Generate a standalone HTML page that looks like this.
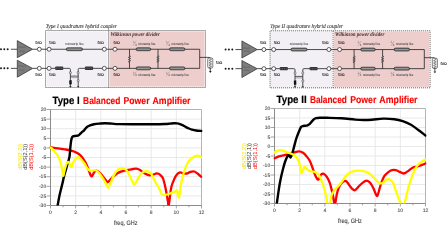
<!DOCTYPE html>
<html><head><meta charset="utf-8">
<style>
html,body{margin:0;padding:0;background:#fff;}
body{width:448px;height:252px;overflow:hidden;}
svg{display:block;text-rendering:geometricPrecision;}
.g{stroke:#e3e3e3;stroke-width:0.8;}
.fr{fill:none;stroke:#b4b4b4;stroke-width:1;}
.ax{fill:none;stroke:#8c8c8c;stroke-width:1;}
.tk{stroke:#8c8c8c;stroke-width:0.8;}
.tl{font-family:"Liberation Sans",sans-serif;font-size:5px;fill:#444;stroke:#444;stroke-width:0.08;}
.xl{font-family:"Liberation Sans",sans-serif;font-size:6.4px;fill:#333;stroke:#333;stroke-width:0.08;}
.yl{font-family:"Liberation Sans",sans-serif;font-size:5.8px;text-rendering:optimizeLegibility;}
.t1{font-family:"Liberation Sans",sans-serif;font-weight:bold;font-size:10.5px;fill:#000;stroke:#000;stroke-width:0.2;}
.t2{font-family:"Liberation Sans",sans-serif;font-weight:bold;font-size:10.0px;fill:#f00;text-rendering:geometricPrecision;stroke:#f00;stroke-width:0.12;}
.bl{font-family:"Liberation Serif",serif;font-style:italic;font-size:5.8px;fill:#333;stroke:#333;stroke-width:0.1;}
.wl{font-family:"Liberation Serif",serif;font-style:italic;font-weight:bold;font-size:5.6px;fill:#3a3030;}
.w{stroke:#222;stroke-width:0.8;fill:none;}
.amp{fill:#7d7d7d;stroke:#2a2a2a;stroke-width:0.7;}
.amt{font-family:"Liberation Sans",sans-serif;font-size:2.6px;fill:#555;}
.ms{fill:#7c7f7f;stroke:#222;stroke-width:0.7;}
.om{font-family:"Liberation Serif",serif;font-size:3.7px;fill:#222;stroke:#222;stroke-width:0.12;}
.ml{font-family:"Liberation Serif",serif;font-size:3.6px;fill:#3a3a3a;stroke:#3a3a3a;stroke-width:0.06;}
.fr1{font-family:"Liberation Serif",serif;font-size:3.3px;fill:#444;}
.lam{font-size:3.6px;}
</style></head><body>
<svg width="448" height="252" viewBox="0 0 448 252">
<rect width="448" height="252" fill="#fff"/>
<g><rect x="45.5" y="30.5" width="63.0" height="57.0" fill="#f2f0f5" stroke="#fff" stroke-width="1.7"/>
<rect x="108.5" y="30.5" width="97.0" height="57.0" fill="#edcecd" stroke="#fff" stroke-width="1.7"/>
<path d="M45.5 87.5 V30.5 H205.5 V87.5 H45.5 M108.5 30.5 V87.5" fill="none" stroke="#555" stroke-width="0.9" stroke-dasharray="1.1 0.9"/>
<text x="45.7" y="28.0" class="bl" textLength="71.2" lengthAdjust="spacingAndGlyphs">Type I quadrature hybrid coupler</text>
<text x="110.4" y="36.2" class="wl" textLength="49.3" lengthAdjust="spacingAndGlyphs">Wilkinson power divider</text>
<circle cx="1.0" cy="49.25" r="1.0" fill="#1a1a1a"/>
<circle cx="4.3" cy="49.25" r="1.0" fill="#1a1a1a"/>
<circle cx="7.7" cy="49.25" r="1.0" fill="#1a1a1a"/>
<line x1="10.8" y1="49.25" x2="17.2" y2="49.25" class="w"/>
<circle cx="1.0" cy="68.35" r="1.0" fill="#1a1a1a"/>
<circle cx="4.3" cy="68.35" r="1.0" fill="#1a1a1a"/>
<circle cx="7.7" cy="68.35" r="1.0" fill="#1a1a1a"/>
<line x1="10.8" y1="68.35" x2="17.2" y2="68.35" class="w"/>
<path d="M17.3 40.6 L17.3 57.7 L32.6 49.25 Z" class="amp"/>
<path d="M17.3 60.2 L17.3 77.2 L32.6 68.4 Z" class="amp"/>
<text x="22.2" y="48.25" class="amt" text-anchor="middle">Power</text>
<text x="22.2" y="51.85" class="amt" text-anchor="middle">Amp</text>
<text x="22.2" y="67.35" class="amt" text-anchor="middle">Power</text>
<text x="22.2" y="70.95" class="amt" text-anchor="middle">Amp</text>
<line x1="32.6" y1="49.25" x2="199.7" y2="49.25" class="w"/>
<line x1="32.6" y1="68.35" x2="55.3" y2="68.35" class="w"/>
<line x1="92.9" y1="68.35" x2="199.7" y2="68.35" class="w"/>
<line x1="199.7" y1="49.25" x2="199.7" y2="68.35" class="w"/>
<path d="M199.7 57.4 L209.2 57.4 Q210.3 57.4 210.3 58.5" class="w"/>
<rect x="207.7" y="57.9" width="5.1" height="10.2" rx="1.4" fill="#f2f2f2" stroke="#333" stroke-width="0.6"/>
<path d="M210.3 58.4 l1.3 0.8 l-2.6 1.2 l2.6 1.2 l-2.6 1.2 l2.6 1.2 l-2.6 1.2 l2.6 1.2 l-2.6 1.2 l1.3 0.8" fill="none" stroke="#333" stroke-width="0.5"/>
<line x1="210.3" y1="68.1" x2="210.3" y2="71.3" class="w"/>
<path d="M209.0 71.1 L211.6 71.1 L210.3 72.9 Z" fill="#222"/>
<line x1="129.5" y1="49.25" x2="129.5" y2="68.35" class="w"/>
<path d="M129.5 55.6 l1.2 0.7 l-2.4 1.1 l2.4 1.1 l-2.4 1.1 l2.4 1.1 l-2.4 1.1 l1.2 0.7" fill="#edcecd" stroke="#222" stroke-width="0.6"/>
<line x1="158.0" y1="49.25" x2="158.0" y2="68.35" class="w"/>
<path d="M158.0 55.6 l1.2 0.7 l-2.4 1.1 l2.4 1.1 l-2.4 1.1 l2.4 1.1 l-2.4 1.1 l1.2 0.7" fill="#edcecd" stroke="#222" stroke-width="0.6"/>
<rect x="66.3" y="47.80" width="16.2" height="2.9" rx="1.4" class="ms"/>
<line x1="67.5" y1="49.25" x2="81.3" y2="49.25" stroke="#b5b5b5" stroke-width="0.5"/>
<rect x="136.1" y="47.80" width="14.6" height="2.9" rx="1.4" class="ms"/>
<line x1="137.3" y1="49.25" x2="149.5" y2="49.25" stroke="#b5b5b5" stroke-width="0.5"/>
<rect x="136.1" y="66.90" width="14.6" height="2.9" rx="1.4" class="ms"/>
<line x1="137.3" y1="68.35" x2="149.5" y2="68.35" stroke="#b5b5b5" stroke-width="0.5"/>
<rect x="169.5" y="47.80" width="15.4" height="2.9" rx="1.4" class="ms"/>
<line x1="170.7" y1="49.25" x2="183.7" y2="49.25" stroke="#b5b5b5" stroke-width="0.5"/>
<rect x="169.5" y="66.90" width="15.4" height="2.9" rx="1.4" class="ms"/>
<line x1="170.7" y1="68.35" x2="183.7" y2="68.35" stroke="#b5b5b5" stroke-width="0.5"/>
<rect x="55.1" y="66.60" width="8.2" height="3.3" rx="1.0" fill="#303030"/>
<line x1="56.50" y1="67.45" x2="56.10" y2="69.25" stroke="#8a8a8a" stroke-width="0.45"/>
<line x1="58.30" y1="67.45" x2="57.90" y2="69.25" stroke="#8a8a8a" stroke-width="0.45"/>
<line x1="60.10" y1="67.45" x2="59.70" y2="69.25" stroke="#8a8a8a" stroke-width="0.45"/>
<line x1="61.90" y1="67.45" x2="61.50" y2="69.25" stroke="#8a8a8a" stroke-width="0.45"/>
<rect x="84.9" y="66.60" width="8.2" height="3.3" rx="1.0" fill="#303030"/>
<line x1="86.30" y1="67.45" x2="85.90" y2="69.25" stroke="#8a8a8a" stroke-width="0.45"/>
<line x1="88.10" y1="67.45" x2="87.70" y2="69.25" stroke="#8a8a8a" stroke-width="0.45"/>
<line x1="89.90" y1="67.45" x2="89.50" y2="69.25" stroke="#8a8a8a" stroke-width="0.45"/>
<line x1="91.70" y1="67.45" x2="91.30" y2="69.25" stroke="#8a8a8a" stroke-width="0.45"/>
<path d="M63.2 68.35 L69.3 68.35 Q70.4 68.35 70.4 69.45 L70.4 86.2" fill="none" class="w"/>
<path d="M85.3 68.35 L79.3 68.35 Q78.2 68.35 78.2 69.45 L78.2 86.2" fill="none" class="w"/>
<line x1="70.4" y1="76.1" x2="78.2" y2="76.1" stroke="#333" stroke-width="0.8"/>
<line x1="70.4" y1="77.6" x2="78.2" y2="77.6" stroke="#555" stroke-width="0.5"/>
<rect x="69.5" y="71.7" width="1.9" height="2.0" rx="0.5" fill="#ddd" stroke="#333" stroke-width="0.45"/>
<path d="M69.2 85.9 L71.6 85.9 L70.4 87.7 Z" fill="#222"/>
<rect x="77.2" y="71.7" width="1.9" height="2.0" rx="0.5" fill="#ddd" stroke="#333" stroke-width="0.45"/>
<path d="M77.0 85.9 L79.4 85.9 L78.2 87.7 Z" fill="#222"/>
<path d="M69.2 80.4 L71.6 80.0 L71.8 84.2 L69.4 84.6 Z" fill="#111"/>
<rect x="77.25" y="79.6" width="1.9" height="2.0" rx="0.5" fill="#ddd" stroke="#333" stroke-width="0.45"/>
<circle cx="39.3" cy="49.25" r="2.0" fill="#fff" stroke="#2a2a2a" stroke-width="0.75"/>
<circle cx="39.3" cy="68.35" r="2.0" fill="#fff" stroke="#2a2a2a" stroke-width="0.75"/>
<circle cx="49.1" cy="49.25" r="2.0" fill="#fff" stroke="#2a2a2a" stroke-width="0.75"/>
<circle cx="49.1" cy="68.35" r="2.0" fill="#fff" stroke="#2a2a2a" stroke-width="0.75"/>
<circle cx="104.3" cy="49.25" r="2.0" fill="#fff" stroke="#2a2a2a" stroke-width="0.75"/>
<circle cx="104.3" cy="68.35" r="2.0" fill="#fff" stroke="#2a2a2a" stroke-width="0.75"/>
<circle cx="115.0" cy="49.25" r="2.0" fill="#fff" stroke="#2a2a2a" stroke-width="0.75"/>
<circle cx="115.0" cy="68.35" r="2.0" fill="#fff" stroke="#2a2a2a" stroke-width="0.75"/>
<text x="38.5" y="43.8" class="om" text-anchor="middle">50&#937;</text>
<text x="38.5" y="75.6" class="om" text-anchor="middle">50&#937;</text>
<text x="52.3" y="43.8" class="om" text-anchor="middle">50&#937;</text>
<text x="52.3" y="75.6" class="om" text-anchor="middle">50&#937;</text>
<text x="100.6" y="43.8" class="om" text-anchor="middle">50&#937;</text>
<text x="100.6" y="75.6" class="om" text-anchor="middle">50&#937;</text>
<text x="116.6" y="43.8" class="om" text-anchor="middle">50&#937;</text>
<text x="116.6" y="75.6" class="om" text-anchor="middle">50&#937;</text>
<text x="219" y="64.4" class="om" text-anchor="middle">50&#937;</text>
<text x="65.2" y="44.6" class="ml" textLength="18.4" lengthAdjust="spacingAndGlyphs">microstrip line</text>
<text x="138.3" y="45.0" class="ml" textLength="17.1" lengthAdjust="spacingAndGlyphs">microstrip line</text>
<text x="132.9" y="43.1" class="fr1">&#955;</text>
<line x1="133.3" y1="45.5" x2="136.2" y2="40.9" stroke="#666" stroke-width="0.35"/>
<text x="135.1" y="45.6" class="fr1">4</text>
<text x="138.3" y="75.6" class="ml" textLength="17.1" lengthAdjust="spacingAndGlyphs">microstrip line</text>
<text x="132.9" y="73.7" class="fr1">&#955;</text>
<line x1="133.3" y1="76.1" x2="136.2" y2="71.5" stroke="#666" stroke-width="0.35"/>
<text x="135.1" y="76.2" class="fr1">4</text>
<text x="171.5" y="45.0" class="ml" textLength="17.2" lengthAdjust="spacingAndGlyphs">microstrip line</text>
<text x="166.0" y="43.1" class="fr1">&#955;</text>
<line x1="166.4" y1="45.5" x2="169.3" y2="40.9" stroke="#666" stroke-width="0.35"/>
<text x="168.2" y="45.6" class="fr1">4</text>
<text x="171.5" y="75.6" class="ml" textLength="17.2" lengthAdjust="spacingAndGlyphs">microstrip line</text>
<text x="166.0" y="73.7" class="fr1">&#955;</text>
<line x1="166.4" y1="76.1" x2="169.3" y2="71.5" stroke="#666" stroke-width="0.35"/>
<text x="168.2" y="76.2" class="fr1">4</text></g>
<g transform="translate(224.6,0.3)"><rect x="45.5" y="30.5" width="63.0" height="57.0" fill="#f2f0f5" stroke="#fff" stroke-width="1.7"/>
<rect x="108.5" y="30.5" width="97.0" height="57.0" fill="#edcecd" stroke="#fff" stroke-width="1.7"/>
<path d="M45.5 87.5 V30.5 H205.5 V87.5 H45.5 M108.5 30.5 V87.5" fill="none" stroke="#555" stroke-width="0.9" stroke-dasharray="1.1 0.9"/>
<text x="45.7" y="28.0" class="bl" textLength="72.9" lengthAdjust="spacingAndGlyphs">Type II quadrature hybrid coupler</text>
<text x="110.4" y="36.2" class="wl" textLength="49.3" lengthAdjust="spacingAndGlyphs">Wilkinson power divider</text>
<circle cx="1.0" cy="49.25" r="1.0" fill="#1a1a1a"/>
<circle cx="4.3" cy="49.25" r="1.0" fill="#1a1a1a"/>
<circle cx="7.7" cy="49.25" r="1.0" fill="#1a1a1a"/>
<line x1="10.8" y1="49.25" x2="17.2" y2="49.25" class="w"/>
<circle cx="1.0" cy="68.35" r="1.0" fill="#1a1a1a"/>
<circle cx="4.3" cy="68.35" r="1.0" fill="#1a1a1a"/>
<circle cx="7.7" cy="68.35" r="1.0" fill="#1a1a1a"/>
<line x1="10.8" y1="68.35" x2="17.2" y2="68.35" class="w"/>
<path d="M17.3 40.6 L17.3 57.7 L32.6 49.25 Z" class="amp"/>
<path d="M17.3 60.2 L17.3 77.2 L32.6 68.4 Z" class="amp"/>
<text x="22.2" y="48.25" class="amt" text-anchor="middle">Power</text>
<text x="22.2" y="51.85" class="amt" text-anchor="middle">Amp</text>
<text x="22.2" y="67.35" class="amt" text-anchor="middle">Power</text>
<text x="22.2" y="70.95" class="amt" text-anchor="middle">Amp</text>
<line x1="32.6" y1="49.25" x2="199.7" y2="49.25" class="w"/>
<line x1="32.6" y1="68.35" x2="55.3" y2="68.35" class="w"/>
<line x1="92.9" y1="68.35" x2="199.7" y2="68.35" class="w"/>
<line x1="199.7" y1="49.25" x2="199.7" y2="68.35" class="w"/>
<path d="M199.7 57.4 L209.2 57.4 Q210.3 57.4 210.3 58.5" class="w"/>
<rect x="207.7" y="57.9" width="5.1" height="10.2" rx="1.4" fill="#f2f2f2" stroke="#333" stroke-width="0.6"/>
<path d="M210.3 58.4 l1.3 0.8 l-2.6 1.2 l2.6 1.2 l-2.6 1.2 l2.6 1.2 l-2.6 1.2 l2.6 1.2 l-2.6 1.2 l1.3 0.8" fill="none" stroke="#333" stroke-width="0.5"/>
<line x1="210.3" y1="68.1" x2="210.3" y2="71.3" class="w"/>
<path d="M209.0 71.1 L211.6 71.1 L210.3 72.9 Z" fill="#222"/>
<line x1="129.5" y1="49.25" x2="129.5" y2="68.35" class="w"/>
<path d="M129.5 55.6 l1.2 0.7 l-2.4 1.1 l2.4 1.1 l-2.4 1.1 l2.4 1.1 l-2.4 1.1 l1.2 0.7" fill="#edcecd" stroke="#222" stroke-width="0.6"/>
<line x1="158.0" y1="49.25" x2="158.0" y2="68.35" class="w"/>
<path d="M158.0 55.6 l1.2 0.7 l-2.4 1.1 l2.4 1.1 l-2.4 1.1 l2.4 1.1 l-2.4 1.1 l1.2 0.7" fill="#edcecd" stroke="#222" stroke-width="0.6"/>
<rect x="66.3" y="47.80" width="16.2" height="2.9" rx="1.4" class="ms"/>
<line x1="67.5" y1="49.25" x2="81.3" y2="49.25" stroke="#b5b5b5" stroke-width="0.5"/>
<rect x="136.1" y="47.80" width="14.6" height="2.9" rx="1.4" class="ms"/>
<line x1="137.3" y1="49.25" x2="149.5" y2="49.25" stroke="#b5b5b5" stroke-width="0.5"/>
<rect x="136.1" y="66.90" width="14.6" height="2.9" rx="1.4" class="ms"/>
<line x1="137.3" y1="68.35" x2="149.5" y2="68.35" stroke="#b5b5b5" stroke-width="0.5"/>
<rect x="169.5" y="47.80" width="15.4" height="2.9" rx="1.4" class="ms"/>
<line x1="170.7" y1="49.25" x2="183.7" y2="49.25" stroke="#b5b5b5" stroke-width="0.5"/>
<rect x="169.5" y="66.90" width="15.4" height="2.9" rx="1.4" class="ms"/>
<line x1="170.7" y1="68.35" x2="183.7" y2="68.35" stroke="#b5b5b5" stroke-width="0.5"/>
<rect x="55.1" y="66.60" width="8.2" height="3.3" rx="1.0" fill="#303030"/>
<line x1="56.50" y1="67.45" x2="56.10" y2="69.25" stroke="#8a8a8a" stroke-width="0.45"/>
<line x1="58.30" y1="67.45" x2="57.90" y2="69.25" stroke="#8a8a8a" stroke-width="0.45"/>
<line x1="60.10" y1="67.45" x2="59.70" y2="69.25" stroke="#8a8a8a" stroke-width="0.45"/>
<line x1="61.90" y1="67.45" x2="61.50" y2="69.25" stroke="#8a8a8a" stroke-width="0.45"/>
<rect x="84.9" y="66.60" width="8.2" height="3.3" rx="1.0" fill="#303030"/>
<line x1="86.30" y1="67.45" x2="85.90" y2="69.25" stroke="#8a8a8a" stroke-width="0.45"/>
<line x1="88.10" y1="67.45" x2="87.70" y2="69.25" stroke="#8a8a8a" stroke-width="0.45"/>
<line x1="89.90" y1="67.45" x2="89.50" y2="69.25" stroke="#8a8a8a" stroke-width="0.45"/>
<line x1="91.70" y1="67.45" x2="91.30" y2="69.25" stroke="#8a8a8a" stroke-width="0.45"/>
<path d="M63.2 68.35 L69.3 68.35 Q70.4 68.35 70.4 69.45 L70.4 86.2" fill="none" class="w"/>
<path d="M85.3 68.35 L79.3 68.35 Q78.2 68.35 78.2 69.45 L78.2 86.2" fill="none" class="w"/>
<line x1="70.4" y1="76.1" x2="78.2" y2="76.1" stroke="#333" stroke-width="0.8"/>
<line x1="70.4" y1="77.6" x2="78.2" y2="77.6" stroke="#555" stroke-width="0.5"/>
<rect x="69.5" y="71.7" width="1.9" height="2.0" rx="0.5" fill="#ddd" stroke="#333" stroke-width="0.45"/>
<path d="M69.2 85.9 L71.6 85.9 L70.4 87.7 Z" fill="#222"/>
<rect x="77.2" y="71.7" width="1.9" height="2.0" rx="0.5" fill="#ddd" stroke="#333" stroke-width="0.45"/>
<path d="M77.0 85.9 L79.4 85.9 L78.2 87.7 Z" fill="#222"/>
<path d="M69.2 80.4 L71.6 80.0 L71.8 84.2 L69.4 84.6 Z" fill="#111"/>
<rect x="77.25" y="79.6" width="1.9" height="2.0" rx="0.5" fill="#ddd" stroke="#333" stroke-width="0.45"/>
<circle cx="39.3" cy="49.25" r="2.0" fill="#fff" stroke="#2a2a2a" stroke-width="0.75"/>
<circle cx="39.3" cy="68.35" r="2.0" fill="#fff" stroke="#2a2a2a" stroke-width="0.75"/>
<circle cx="49.1" cy="49.25" r="2.0" fill="#fff" stroke="#2a2a2a" stroke-width="0.75"/>
<circle cx="49.1" cy="68.35" r="2.0" fill="#fff" stroke="#2a2a2a" stroke-width="0.75"/>
<circle cx="104.3" cy="49.25" r="2.0" fill="#fff" stroke="#2a2a2a" stroke-width="0.75"/>
<circle cx="104.3" cy="68.35" r="2.0" fill="#fff" stroke="#2a2a2a" stroke-width="0.75"/>
<circle cx="115.0" cy="49.25" r="2.0" fill="#fff" stroke="#2a2a2a" stroke-width="0.75"/>
<circle cx="115.0" cy="68.35" r="2.0" fill="#fff" stroke="#2a2a2a" stroke-width="0.75"/>
<text x="38.5" y="43.8" class="om" text-anchor="middle">50&#937;</text>
<text x="38.5" y="75.6" class="om" text-anchor="middle">50&#937;</text>
<text x="52.3" y="43.8" class="om" text-anchor="middle">50&#937;</text>
<text x="52.3" y="75.6" class="om" text-anchor="middle">50&#937;</text>
<text x="100.6" y="43.8" class="om" text-anchor="middle">50&#937;</text>
<text x="100.6" y="75.6" class="om" text-anchor="middle">50&#937;</text>
<text x="116.6" y="43.8" class="om" text-anchor="middle">50&#937;</text>
<text x="116.6" y="75.6" class="om" text-anchor="middle">50&#937;</text>
<text x="219" y="64.4" class="om" text-anchor="middle">50&#937;</text>
<text x="65.2" y="44.6" class="ml" textLength="18.4" lengthAdjust="spacingAndGlyphs">microstrip line</text>
<text x="138.3" y="45.0" class="ml" textLength="17.1" lengthAdjust="spacingAndGlyphs">microstrip line</text>
<text x="132.9" y="43.1" class="fr1">&#955;</text>
<line x1="133.3" y1="45.5" x2="136.2" y2="40.9" stroke="#666" stroke-width="0.35"/>
<text x="135.1" y="45.6" class="fr1">4</text>
<text x="138.3" y="75.6" class="ml" textLength="17.1" lengthAdjust="spacingAndGlyphs">microstrip line</text>
<text x="132.9" y="73.7" class="fr1">&#955;</text>
<line x1="133.3" y1="76.1" x2="136.2" y2="71.5" stroke="#666" stroke-width="0.35"/>
<text x="135.1" y="76.2" class="fr1">4</text>
<text x="171.5" y="45.0" class="ml" textLength="17.2" lengthAdjust="spacingAndGlyphs">microstrip line</text>
<text x="166.0" y="43.1" class="fr1">&#955;</text>
<line x1="166.4" y1="45.5" x2="169.3" y2="40.9" stroke="#666" stroke-width="0.35"/>
<text x="168.2" y="45.6" class="fr1">4</text>
<text x="171.5" y="75.6" class="ml" textLength="17.2" lengthAdjust="spacingAndGlyphs">microstrip line</text>
<text x="166.0" y="73.7" class="fr1">&#955;</text>
<line x1="166.4" y1="76.1" x2="169.3" y2="71.5" stroke="#666" stroke-width="0.35"/>
<text x="168.2" y="76.2" class="fr1">4</text></g>
<line x1="75.67" y1="109.50" x2="75.67" y2="205.50" class="g"/>
<line x1="100.83" y1="109.50" x2="100.83" y2="205.50" class="g"/>
<line x1="126.00" y1="109.50" x2="126.00" y2="205.50" class="g"/>
<line x1="151.17" y1="109.50" x2="151.17" y2="205.50" class="g"/>
<line x1="176.33" y1="109.50" x2="176.33" y2="205.50" class="g"/>
<line x1="50.50" y1="119.10" x2="201.50" y2="119.10" class="g"/>
<line x1="50.50" y1="128.70" x2="201.50" y2="128.70" class="g"/>
<line x1="50.50" y1="138.30" x2="201.50" y2="138.30" class="g"/>
<line x1="50.50" y1="147.90" x2="201.50" y2="147.90" class="g"/>
<line x1="50.50" y1="157.50" x2="201.50" y2="157.50" class="g"/>
<line x1="50.50" y1="167.10" x2="201.50" y2="167.10" class="g"/>
<line x1="50.50" y1="176.70" x2="201.50" y2="176.70" class="g"/>
<line x1="50.50" y1="186.30" x2="201.50" y2="186.30" class="g"/>
<line x1="50.50" y1="195.90" x2="201.50" y2="195.90" class="g"/>
<path d="M50.50 109.50 H201.50 V205.50" class="fr"/>
<path d="M50.50 109.50 V205.50 H201.50" class="ax"/>
<line x1="46.70" y1="109.50" x2="50.50" y2="109.50" class="tk"/>
<text x="46.20" y="111.25" class="tl" text-anchor="end">20</text>
<line x1="46.70" y1="119.10" x2="50.50" y2="119.10" class="tk"/>
<text x="46.20" y="120.85" class="tl" text-anchor="end">15</text>
<line x1="46.70" y1="128.70" x2="50.50" y2="128.70" class="tk"/>
<text x="46.20" y="130.45" class="tl" text-anchor="end">10</text>
<line x1="46.70" y1="138.30" x2="50.50" y2="138.30" class="tk"/>
<text x="46.20" y="140.05" class="tl" text-anchor="end">5</text>
<line x1="46.70" y1="147.90" x2="50.50" y2="147.90" class="tk"/>
<text x="46.20" y="149.65" class="tl" text-anchor="end">0</text>
<line x1="46.70" y1="157.50" x2="50.50" y2="157.50" class="tk"/>
<text x="46.20" y="159.25" class="tl" text-anchor="end">-5</text>
<line x1="46.70" y1="167.10" x2="50.50" y2="167.10" class="tk"/>
<text x="46.20" y="168.85" class="tl" text-anchor="end">-10</text>
<line x1="46.70" y1="176.70" x2="50.50" y2="176.70" class="tk"/>
<text x="46.20" y="178.45" class="tl" text-anchor="end">-15</text>
<line x1="46.70" y1="186.30" x2="50.50" y2="186.30" class="tk"/>
<text x="46.20" y="188.05" class="tl" text-anchor="end">-20</text>
<line x1="46.70" y1="195.90" x2="50.50" y2="195.90" class="tk"/>
<text x="46.20" y="197.65" class="tl" text-anchor="end">-25</text>
<line x1="46.70" y1="205.50" x2="50.50" y2="205.50" class="tk"/>
<text x="46.20" y="207.25" class="tl" text-anchor="end">-30</text>
<line x1="50.50" y1="205.50" x2="50.50" y2="208.50" class="tk"/>
<text x="50.50" y="213.80" class="tl" text-anchor="middle">0</text>
<line x1="63.08" y1="205.50" x2="63.08" y2="207.30" class="tk"/>
<line x1="75.67" y1="205.50" x2="75.67" y2="208.50" class="tk"/>
<text x="75.67" y="213.80" class="tl" text-anchor="middle">2</text>
<line x1="88.25" y1="205.50" x2="88.25" y2="207.30" class="tk"/>
<line x1="100.83" y1="205.50" x2="100.83" y2="208.50" class="tk"/>
<text x="100.83" y="213.80" class="tl" text-anchor="middle">4</text>
<line x1="113.42" y1="205.50" x2="113.42" y2="207.30" class="tk"/>
<line x1="126.00" y1="205.50" x2="126.00" y2="208.50" class="tk"/>
<text x="126.00" y="213.80" class="tl" text-anchor="middle">6</text>
<line x1="138.58" y1="205.50" x2="138.58" y2="207.30" class="tk"/>
<line x1="151.17" y1="205.50" x2="151.17" y2="208.50" class="tk"/>
<text x="151.17" y="213.80" class="tl" text-anchor="middle">8</text>
<line x1="163.75" y1="205.50" x2="163.75" y2="207.30" class="tk"/>
<line x1="176.33" y1="205.50" x2="176.33" y2="208.50" class="tk"/>
<text x="176.33" y="213.80" class="tl" text-anchor="middle">10</text>
<line x1="188.92" y1="205.50" x2="188.92" y2="207.30" class="tk"/>
<line x1="201.50" y1="205.50" x2="201.50" y2="208.50" class="tk"/>
<text x="201.50" y="213.80" class="tl" text-anchor="middle">12</text>
<clipPath id="c1"><rect x="49.50" y="106.50" width="153.00" height="99.00"/></clipPath>
<g clip-path="url(#c1)" fill="none" stroke-linejoin="round" stroke-linecap="round">
<path d="M50.00 147.30 C50.67 147.40 52.68 147.72 54.00 147.90 C55.32 148.08 56.57 148.22 57.90 148.40 C59.23 148.58 60.67 148.82 62.00 149.00 C63.33 149.18 64.42 149.25 65.90 149.50 C67.38 149.75 69.55 150.17 70.90 150.50 C72.25 150.83 72.68 150.92 74.00 151.50 C75.32 152.08 77.55 153.17 78.80 154.00 C80.05 154.83 80.70 155.62 81.50 156.50 C82.30 157.38 82.88 158.22 83.60 159.30 C84.32 160.38 85.15 161.72 85.80 163.00 C86.45 164.28 86.97 165.67 87.50 167.00 C88.03 168.33 88.53 169.75 89.00 171.00 C89.47 172.25 89.92 173.63 90.30 174.50 C90.68 175.37 90.93 176.03 91.30 176.20 C91.67 176.37 92.02 176.17 92.50 175.50 C92.98 174.83 93.57 173.02 94.20 172.20 C94.83 171.38 95.42 170.53 96.30 170.60 C97.18 170.67 98.43 171.67 99.50 172.60 C100.57 173.53 101.63 174.93 102.70 176.20 C103.77 177.47 105.10 179.18 105.90 180.20 C106.70 181.22 106.85 182.30 107.50 182.30 C108.15 182.30 108.75 181.22 109.80 180.20 C110.85 179.18 112.47 177.40 113.80 176.20 C115.13 175.00 116.48 173.80 117.80 173.00 C119.12 172.20 120.42 171.85 121.70 171.40 C122.98 170.95 124.15 170.60 125.50 170.30 C126.85 170.00 128.55 169.82 129.80 169.60 C131.05 169.38 131.93 169.15 133.00 169.00 C134.07 168.85 135.10 168.57 136.20 168.70 C137.30 168.83 138.55 169.27 139.60 169.80 C140.65 170.33 141.53 171.23 142.50 171.90 C143.47 172.57 144.40 173.25 145.40 173.80 C146.40 174.35 147.57 174.97 148.50 175.20 C149.43 175.43 150.10 175.33 151.00 175.20 C151.90 175.07 152.98 174.70 153.90 174.40 C154.82 174.10 155.73 173.50 156.50 173.40 C157.27 173.30 157.80 173.47 158.50 173.80 C159.20 174.13 159.97 174.68 160.70 175.40 C161.43 176.12 162.22 176.53 162.90 178.10 C163.58 179.67 164.17 182.10 164.80 184.80 C165.43 187.50 166.17 191.45 166.70 194.30 C167.23 197.15 167.68 199.95 168.00 201.90 C168.32 203.85 168.28 206.80 168.60 206.00 C168.92 205.20 169.43 200.32 169.90 197.10 C170.37 193.88 170.67 189.72 171.40 186.70 C172.13 183.68 173.35 181.07 174.30 179.00 C175.25 176.93 176.15 175.42 177.10 174.30 C178.05 173.18 179.03 172.47 180.00 172.30 C180.97 172.13 181.78 173.10 182.90 173.30 C184.02 173.50 185.43 173.75 186.70 173.50 C187.97 173.25 189.23 172.13 190.50 171.80 C191.77 171.47 193.03 171.13 194.30 171.50 C195.57 171.87 196.93 173.12 198.10 174.00 C199.27 174.88 200.77 176.33 201.30 176.80" stroke="#ff0000" stroke-width="2.30"/>
<path d="M57.60 205.80 C57.87 204.33 58.67 199.63 59.20 197.00 C59.73 194.37 60.28 192.17 60.80 190.00 C61.32 187.83 61.90 185.67 62.30 184.00 C62.70 182.33 62.88 181.40 63.20 180.00 C63.52 178.60 63.78 177.18 64.20 175.60 C64.62 174.02 65.22 172.22 65.70 170.50 C66.18 168.78 66.62 167.02 67.10 165.30 C67.58 163.58 68.18 161.75 68.60 160.20 C69.02 158.65 69.35 157.70 69.60 156.00 C69.85 154.30 69.93 151.83 70.10 150.00 C70.27 148.17 70.43 146.50 70.60 145.00 C70.77 143.50 70.90 142.17 71.10 141.00 C71.30 139.83 71.48 138.77 71.80 138.00 C72.12 137.23 72.32 136.75 73.00 136.40 C73.68 136.05 74.95 136.10 75.90 135.90 C76.85 135.70 77.78 135.75 78.70 135.20 C79.62 134.65 80.50 133.42 81.40 132.60 C82.30 131.78 83.17 131.23 84.10 130.30 C85.03 129.37 86.02 127.81 87.00 127.00 C87.98 126.19 88.83 125.91 90.00 125.45 C91.17 124.99 92.33 124.57 94.00 124.25 C95.67 123.93 98.15 123.72 100.00 123.55 C101.85 123.38 103.10 123.23 105.10 123.25 C107.10 123.27 109.67 123.50 112.00 123.65 C114.33 123.80 115.13 124.05 119.10 124.15 C123.07 124.25 130.23 124.23 135.80 124.25 C141.37 124.27 147.63 124.29 152.50 124.25 C157.37 124.21 162.08 124.11 165.00 124.00 C167.92 123.89 168.50 123.72 170.00 123.60 C171.50 123.48 172.83 123.33 174.00 123.30 C175.17 123.27 176.00 123.27 177.00 123.40 C178.00 123.53 179.00 123.77 180.00 124.10 C181.00 124.43 182.00 124.90 183.00 125.40 C184.00 125.90 185.00 126.58 186.00 127.10 C187.00 127.62 188.00 128.08 189.00 128.50 C190.00 128.92 190.83 129.27 192.00 129.60 C193.17 129.93 194.42 130.27 196.00 130.50 C197.58 130.73 200.58 130.92 201.50 131.00" stroke="#000" stroke-width="2.40"/>
<path d="M50.30 147.40 C50.67 147.67 51.72 148.17 52.50 149.00 C53.28 149.83 54.05 151.18 55.00 152.40 C55.95 153.62 57.27 154.58 58.20 156.30 C59.13 158.02 59.92 160.38 60.60 162.70 C61.28 165.02 61.87 168.02 62.30 170.20 C62.73 172.38 62.90 175.42 63.20 175.80 C63.50 176.18 63.75 173.88 64.10 172.50 C64.45 171.12 64.83 169.08 65.30 167.50 C65.77 165.92 66.40 163.95 66.90 163.00 C67.40 162.05 67.85 161.72 68.30 161.80 C68.75 161.88 69.22 162.75 69.60 163.50 C69.98 164.25 70.28 165.72 70.60 166.30 C70.92 166.88 71.20 167.30 71.50 167.00 C71.80 166.70 72.05 165.37 72.40 164.50 C72.75 163.63 73.07 162.77 73.60 161.80 C74.13 160.83 74.87 159.47 75.60 158.70 C76.33 157.93 77.07 157.07 78.00 157.20 C78.93 157.33 80.13 158.45 81.20 159.50 C82.27 160.55 83.48 162.20 84.40 163.50 C85.32 164.80 86.02 166.28 86.70 167.30 C87.38 168.32 87.87 169.02 88.50 169.60 C89.13 170.18 89.85 170.63 90.50 170.80 C91.15 170.97 91.55 170.68 92.40 170.60 C93.25 170.52 94.42 169.82 95.60 170.30 C96.78 170.78 98.18 171.98 99.50 173.50 C100.82 175.02 102.30 177.50 103.50 179.40 C104.70 181.30 105.90 183.53 106.70 184.90 C107.50 186.27 107.65 187.87 108.30 187.60 C108.95 187.33 109.68 185.33 110.60 183.30 C111.52 181.27 112.60 177.65 113.80 175.40 C115.00 173.15 116.60 170.98 117.80 169.80 C119.00 168.62 119.82 168.43 121.00 168.30 C122.18 168.17 123.83 168.48 124.90 169.00 C125.97 169.52 126.45 169.93 127.40 171.40 C128.35 172.87 129.63 175.87 130.60 177.80 C131.57 179.73 132.55 181.87 133.20 183.00 C133.85 184.13 133.75 185.23 134.50 184.60 C135.25 183.97 136.68 180.92 137.70 179.20 C138.72 177.48 139.65 175.52 140.60 174.30 C141.55 173.08 142.45 172.42 143.40 171.90 C144.35 171.38 145.35 171.20 146.30 171.20 C147.25 171.20 148.23 171.38 149.10 171.90 C149.97 172.42 150.70 173.12 151.50 174.30 C152.30 175.48 153.18 177.57 153.90 179.00 C154.62 180.43 155.20 181.82 155.80 182.90 C156.40 183.98 156.82 184.32 157.50 185.50 C158.18 186.68 159.17 188.53 159.90 190.00 C160.63 191.47 160.93 193.48 161.90 194.30 C162.87 195.12 164.27 195.07 165.70 194.90 C167.13 194.73 168.92 193.88 170.50 193.30 C172.08 192.72 174.10 191.87 175.20 191.40 C176.30 190.93 176.58 189.65 177.10 190.50 C177.62 191.35 177.93 195.45 178.30 196.50 C178.67 197.55 178.93 198.38 179.30 196.80 C179.67 195.22 179.90 190.50 180.50 187.00 C181.10 183.50 182.03 179.12 182.90 175.80 C183.77 172.48 184.75 169.50 185.70 167.10 C186.65 164.70 187.40 163.02 188.60 161.40 C189.80 159.78 191.48 158.35 192.90 157.40 C194.32 156.45 196.03 155.93 197.10 155.70 C198.17 155.47 198.60 155.75 199.30 156.00 C200.00 156.25 200.97 157.00 201.30 157.20" stroke="#ffff00" stroke-width="2.30"/>
</g>
<line x1="299.67" y1="108.50" x2="299.67" y2="203.50" class="g"/>
<line x1="324.83" y1="108.50" x2="324.83" y2="203.50" class="g"/>
<line x1="350.00" y1="108.50" x2="350.00" y2="203.50" class="g"/>
<line x1="375.17" y1="108.50" x2="375.17" y2="203.50" class="g"/>
<line x1="400.33" y1="108.50" x2="400.33" y2="203.50" class="g"/>
<line x1="274.50" y1="118.00" x2="425.50" y2="118.00" class="g"/>
<line x1="274.50" y1="127.50" x2="425.50" y2="127.50" class="g"/>
<line x1="274.50" y1="137.00" x2="425.50" y2="137.00" class="g"/>
<line x1="274.50" y1="146.50" x2="425.50" y2="146.50" class="g"/>
<line x1="274.50" y1="156.00" x2="425.50" y2="156.00" class="g"/>
<line x1="274.50" y1="165.50" x2="425.50" y2="165.50" class="g"/>
<line x1="274.50" y1="175.00" x2="425.50" y2="175.00" class="g"/>
<line x1="274.50" y1="184.50" x2="425.50" y2="184.50" class="g"/>
<line x1="274.50" y1="194.00" x2="425.50" y2="194.00" class="g"/>
<path d="M274.50 108.50 H425.50 V203.50" class="fr"/>
<path d="M274.50 108.50 V203.50 H425.50" class="ax"/>
<line x1="270.70" y1="108.50" x2="274.50" y2="108.50" class="tk"/>
<text x="270.20" y="110.25" class="tl" text-anchor="end">20</text>
<line x1="270.70" y1="118.00" x2="274.50" y2="118.00" class="tk"/>
<text x="270.20" y="119.75" class="tl" text-anchor="end">15</text>
<line x1="270.70" y1="127.50" x2="274.50" y2="127.50" class="tk"/>
<text x="270.20" y="129.25" class="tl" text-anchor="end">10</text>
<line x1="270.70" y1="137.00" x2="274.50" y2="137.00" class="tk"/>
<text x="270.20" y="138.75" class="tl" text-anchor="end">5</text>
<line x1="270.70" y1="146.50" x2="274.50" y2="146.50" class="tk"/>
<text x="270.20" y="148.25" class="tl" text-anchor="end">0</text>
<line x1="270.70" y1="156.00" x2="274.50" y2="156.00" class="tk"/>
<text x="270.20" y="157.75" class="tl" text-anchor="end">-5</text>
<line x1="270.70" y1="165.50" x2="274.50" y2="165.50" class="tk"/>
<text x="270.20" y="167.25" class="tl" text-anchor="end">-10</text>
<line x1="270.70" y1="175.00" x2="274.50" y2="175.00" class="tk"/>
<text x="270.20" y="176.75" class="tl" text-anchor="end">-15</text>
<line x1="270.70" y1="184.50" x2="274.50" y2="184.50" class="tk"/>
<text x="270.20" y="186.25" class="tl" text-anchor="end">-20</text>
<line x1="270.70" y1="194.00" x2="274.50" y2="194.00" class="tk"/>
<text x="270.20" y="195.75" class="tl" text-anchor="end">-25</text>
<line x1="270.70" y1="203.50" x2="274.50" y2="203.50" class="tk"/>
<text x="270.20" y="205.25" class="tl" text-anchor="end">-30</text>
<line x1="274.50" y1="203.50" x2="274.50" y2="206.50" class="tk"/>
<text x="274.50" y="212.40" class="tl" text-anchor="middle">0</text>
<line x1="287.08" y1="203.50" x2="287.08" y2="205.30" class="tk"/>
<line x1="299.67" y1="203.50" x2="299.67" y2="206.50" class="tk"/>
<text x="299.67" y="212.40" class="tl" text-anchor="middle">2</text>
<line x1="312.25" y1="203.50" x2="312.25" y2="205.30" class="tk"/>
<line x1="324.83" y1="203.50" x2="324.83" y2="206.50" class="tk"/>
<text x="324.83" y="212.40" class="tl" text-anchor="middle">4</text>
<line x1="337.42" y1="203.50" x2="337.42" y2="205.30" class="tk"/>
<line x1="350.00" y1="203.50" x2="350.00" y2="206.50" class="tk"/>
<text x="350.00" y="212.40" class="tl" text-anchor="middle">6</text>
<line x1="362.58" y1="203.50" x2="362.58" y2="205.30" class="tk"/>
<line x1="375.17" y1="203.50" x2="375.17" y2="206.50" class="tk"/>
<text x="375.17" y="212.40" class="tl" text-anchor="middle">8</text>
<line x1="387.75" y1="203.50" x2="387.75" y2="205.30" class="tk"/>
<line x1="400.33" y1="203.50" x2="400.33" y2="206.50" class="tk"/>
<text x="400.33" y="212.40" class="tl" text-anchor="middle">10</text>
<line x1="412.92" y1="203.50" x2="412.92" y2="205.30" class="tk"/>
<line x1="425.50" y1="203.50" x2="425.50" y2="206.50" class="tk"/>
<text x="425.50" y="212.40" class="tl" text-anchor="middle">12</text>
<clipPath id="c2"><rect x="273.50" y="105.50" width="153.00" height="98.00"/></clipPath>
<g clip-path="url(#c2)" fill="none" stroke-linejoin="round" stroke-linecap="round">
<path d="M274.40 158.30 C275.32 157.95 278.18 156.73 279.90 156.20 C281.62 155.67 283.10 155.47 284.70 155.10 C286.30 154.73 287.92 154.45 289.50 154.00 C291.08 153.55 292.62 152.83 294.20 152.40 C295.78 151.97 297.53 151.35 299.00 151.40 C300.47 151.45 301.68 151.82 303.00 152.70 C304.32 153.58 305.72 155.25 306.90 156.70 C308.08 158.15 309.10 159.37 310.10 161.40 C311.10 163.43 311.93 166.33 312.90 168.90 C313.87 171.47 315.07 175.02 315.90 176.80 C316.73 178.58 317.30 179.40 317.90 179.60 C318.50 179.80 319.00 178.80 319.50 178.00 C320.00 177.20 320.18 175.50 320.90 174.80 C321.62 174.10 322.82 173.47 323.80 173.80 C324.78 174.13 325.80 175.30 326.80 176.80 C327.80 178.30 328.80 179.82 329.80 182.80 C330.80 185.78 331.97 191.00 332.80 194.70 C333.63 198.40 334.15 205.00 334.80 205.00 C335.45 205.00 336.05 197.58 336.70 194.70 C337.35 191.82 337.87 189.68 338.70 187.70 C339.53 185.72 340.53 183.92 341.70 182.80 C342.87 181.68 344.60 180.83 345.70 181.00 C346.80 181.17 347.32 182.60 348.30 183.80 C349.28 185.00 350.52 187.10 351.60 188.20 C352.68 189.30 353.72 190.58 354.80 190.40 C355.88 190.22 356.82 188.37 358.10 187.10 C359.38 185.83 361.05 183.88 362.50 182.80 C363.95 181.72 365.53 180.60 366.80 180.60 C368.07 180.60 369.00 181.53 370.10 182.80 C371.20 184.07 372.48 186.38 373.40 188.20 C374.32 190.02 374.95 192.42 375.60 193.70 C376.25 194.98 376.77 196.27 377.30 195.90 C377.83 195.53 378.18 193.52 378.80 191.50 C379.42 189.48 380.08 186.35 381.00 183.80 C381.92 181.25 383.02 178.20 384.30 176.20 C385.58 174.20 387.43 172.82 388.70 171.80 C389.97 170.78 390.70 170.38 391.90 170.10 C393.10 169.82 394.58 169.80 395.90 170.10 C397.22 170.40 398.50 171.33 399.80 171.90 C401.10 172.47 402.40 173.58 403.70 173.50 C405.00 173.42 406.07 172.40 407.60 171.40 C409.13 170.40 411.15 168.37 412.90 167.50 C414.65 166.63 416.58 166.63 418.10 166.20 C419.62 165.77 420.77 165.35 422.00 164.90 C423.23 164.45 424.92 163.73 425.50 163.50" stroke="#ff0000" stroke-width="2.30"/>
<path d="M276.60 205.00 C276.87 203.10 277.68 197.10 278.20 193.60 C278.72 190.10 279.18 186.92 279.70 184.00 C280.22 181.08 280.72 178.73 281.30 176.10 C281.88 173.47 282.58 170.55 283.20 168.20 C283.82 165.85 284.42 163.73 285.00 162.00 C285.58 160.27 286.17 158.97 286.70 157.80 C287.23 156.63 287.77 155.37 288.20 155.00 C288.63 154.63 288.92 155.17 289.30 155.60 C289.68 156.03 290.10 157.67 290.50 157.60 C290.90 157.53 291.23 156.50 291.70 155.20 C292.17 153.90 292.65 152.20 293.30 149.80 C293.95 147.40 294.92 143.18 295.60 140.80 C296.28 138.42 296.75 137.25 297.40 135.50 C298.05 133.75 298.87 131.75 299.50 130.30 C300.13 128.85 300.58 127.52 301.20 126.80 C301.82 126.08 302.48 126.18 303.20 126.00 C303.92 125.82 304.78 125.82 305.50 125.70 C306.22 125.58 306.83 125.57 307.50 125.30 C308.17 125.03 308.80 124.72 309.50 124.10 C310.20 123.48 310.95 122.40 311.70 121.60 C312.45 120.80 313.25 119.87 314.00 119.30 C314.75 118.73 315.27 118.47 316.20 118.20 C317.13 117.93 317.75 117.77 319.60 117.70 C321.45 117.63 323.68 117.70 327.30 117.80 C330.92 117.90 336.65 118.00 341.30 118.30 C345.95 118.60 351.48 119.32 355.20 119.60 C358.92 119.88 360.80 119.98 363.60 120.00 C366.40 120.02 368.75 119.93 372.00 119.70 C375.25 119.47 379.38 118.68 383.10 118.60 C386.82 118.52 391.03 118.78 394.30 119.20 C397.57 119.62 399.92 120.18 402.70 121.10 C405.48 122.02 408.45 123.25 411.00 124.70 C413.55 126.15 415.58 128.00 418.00 129.80 C420.42 131.60 424.25 134.55 425.50 135.50" stroke="#000" stroke-width="2.40"/>
<path d="M274.40 152.60 C274.83 152.32 276.05 151.30 277.00 150.90 C277.95 150.50 279.02 150.20 280.10 150.20 C281.18 150.20 282.20 150.48 283.50 150.90 C284.80 151.32 286.38 152.13 287.90 152.70 C289.42 153.27 291.15 153.50 292.60 154.30 C294.05 155.10 295.53 156.18 296.60 157.50 C297.67 158.82 298.33 160.35 299.00 162.20 C299.67 164.05 300.20 166.75 300.60 168.60 C301.00 170.45 301.00 173.03 301.40 173.30 C301.80 173.57 302.48 171.28 303.00 170.20 C303.52 169.12 303.98 167.20 304.50 166.80 C305.02 166.40 305.43 167.18 306.10 167.80 C306.77 168.42 307.57 169.88 308.50 170.50 C309.43 171.12 310.63 171.27 311.70 171.50 C312.77 171.73 313.70 171.35 314.90 171.90 C316.10 172.45 317.73 173.15 318.90 174.80 C320.07 176.45 320.92 179.15 321.90 181.80 C322.88 184.45 323.98 187.73 324.80 190.70 C325.62 193.67 326.30 197.05 326.80 199.60 C327.30 202.15 327.30 205.33 327.80 206.00 C328.30 206.67 329.13 205.48 329.80 203.60 C330.47 201.72 330.97 197.02 331.80 194.70 C332.63 192.38 333.65 191.18 334.80 189.70 C335.95 188.22 337.50 187.17 338.70 185.80 C339.90 184.43 340.87 183.05 342.00 181.50 C343.13 179.95 344.27 177.93 345.50 176.50 C346.73 175.07 348.03 173.78 349.40 172.90 C350.77 172.02 352.07 171.57 353.70 171.20 C355.33 170.83 357.20 170.60 359.20 170.70 C361.20 170.80 363.88 171.25 365.70 171.80 C367.52 172.35 368.63 172.90 370.10 174.00 C371.57 175.10 373.05 176.93 374.50 178.40 C375.95 179.87 377.53 182.00 378.80 182.80 C380.07 183.60 380.82 183.75 382.10 183.20 C383.38 182.65 385.22 180.12 386.50 179.50 C387.78 178.88 388.72 178.95 389.80 179.50 C390.88 180.05 391.98 180.88 393.00 182.80 C394.02 184.72 394.77 187.88 395.90 191.00 C397.03 194.12 398.85 198.83 399.80 201.50 C400.75 204.17 400.98 206.08 401.60 207.00 C402.22 207.92 402.93 207.92 403.50 207.00 C404.07 206.08 404.10 205.03 405.00 201.50 C405.90 197.97 407.58 190.38 408.90 185.80 C410.22 181.22 411.58 177.27 412.90 174.00 C414.22 170.73 415.50 168.15 416.80 166.20 C418.10 164.25 419.25 163.42 420.70 162.30 C422.15 161.18 424.70 159.97 425.50 159.50" stroke="#ffff00" stroke-width="2.30"/>
</g>
<text x="52.6" y="103.9" class="t1" textLength="27.0" lengthAdjust="spacingAndGlyphs">Type I</text>
<text x="83.1" y="103.9" class="t2" textLength="37.2" lengthAdjust="spacingAndGlyphs">Balanced</text>
<text x="123.6" y="103.9" class="t2" textLength="25.9" lengthAdjust="spacingAndGlyphs">Power</text>
<text x="152.5" y="103.9" class="t2" textLength="38.0" lengthAdjust="spacingAndGlyphs">Amplifier</text>
<text x="276.6" y="102.7" class="t1" textLength="30.0" lengthAdjust="spacingAndGlyphs">Type II</text>
<text x="309.9" y="103.3" class="t2" textLength="37.0" lengthAdjust="spacingAndGlyphs">Balanced</text>
<text x="350.3" y="103.3" class="t2" textLength="26.0" lengthAdjust="spacingAndGlyphs">Power</text>
<text x="379.3" y="103.3" class="t2" textLength="38.2" lengthAdjust="spacingAndGlyphs">Amplifier</text>
<text x="114" y="224.5" class="xl" textLength="23.5" lengthAdjust="spacingAndGlyphs">freq, GHz</text>
<text x="338.0" y="223.4" class="xl" textLength="23.8" lengthAdjust="spacingAndGlyphs">freq, GHz</text>
<g class="yl" text-anchor="middle">
<text transform="translate(21.75,156.85) rotate(-90)" fill="#f2e600" textLength="25.8" lengthAdjust="spacingAndGlyphs">dB(S(2,2))</text>
<text transform="translate(27.25,156.85) rotate(-90)" fill="#333" textLength="25.8" lengthAdjust="spacingAndGlyphs">dB(S(2,1))</text>
<text transform="translate(33.05,156.85) rotate(-90)" fill="#f00" textLength="25.8" lengthAdjust="spacingAndGlyphs">dB(S(1,1))</text>
<text transform="translate(245.55,156.05) rotate(-90)" fill="#f2e600" textLength="26" lengthAdjust="spacingAndGlyphs">dB(S(2,2))</text>
<text transform="translate(251.15,156.05) rotate(-90)" fill="#333" textLength="26" lengthAdjust="spacingAndGlyphs">dB(S(2,1))</text>
<text transform="translate(256.65,156.05) rotate(-90)" fill="#f00" textLength="26" lengthAdjust="spacingAndGlyphs">dB(S(1,1))</text>
</g>
</svg>
</body></html>
